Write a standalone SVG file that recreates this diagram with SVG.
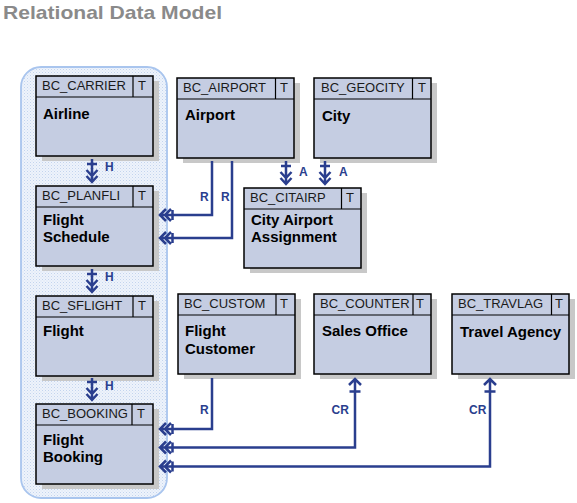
<svg xmlns="http://www.w3.org/2000/svg" width="577" height="503" viewBox="0 0 577 503">
<defs>
<pattern id="dots" width="3" height="3" patternUnits="userSpaceOnUse">
<rect width="3" height="3" fill="#eef3fb"/>
<rect x="0" y="0" width="1" height="1" fill="#c3d4ee"/>
<rect x="1.5" y="1.5" width="1" height="1" fill="#d3e0f3"/>
</pattern>
<style>
.sh{fill:#c8c8c8}
.box{fill:#c5cde2;stroke:#000;stroke-width:1.5}
.ln{stroke:#000;stroke-width:1.2}
.hd{font-family:"Liberation Sans",Arial,sans-serif;font-size:13px;fill:#1a1a1a}
.bd{font-family:"Liberation Sans",Arial,sans-serif;font-size:15px;font-weight:bold;fill:#000}
.c{fill:none;stroke:#2a3e8e;stroke-width:2.5}
.lb{font-family:"Liberation Sans",Arial,sans-serif;font-size:12px;font-weight:bold;fill:#2a3e8e}
</style>
</defs>
<rect width="577" height="503" fill="#fff"/>
<text x="3" y="18.5" font-family="Liberation Sans,Arial,sans-serif" font-size="19" font-weight="bold" fill="#8a8a8a" textLength="219" lengthAdjust="spacingAndGlyphs">Relational Data Model</text>

<g id="group">
<rect x="21" y="67" width="146" height="431" rx="20" fill="url(#dots)" stroke="#a9c5ee" stroke-width="1.8"/>
</g>

<g id="carrier">
<rect class="sh" x="42" y="81" width="117" height="80"/>
<rect class="box" x="36" y="76" width="117" height="80"/>
<line class="ln" x1="36" y1="97" x2="153" y2="97"/><line class="ln" x1="133" y1="76" x2="133" y2="97"/>
<text class="hd" x="42" y="90">BC_CARRIER</text><text class="hd" x="138" y="90">T</text>
<text class="bd" x="43" y="119">Airline</text>
</g>
<g id="planfli">
<rect class="sh" x="42" y="191" width="117" height="80"/>
<rect class="box" x="36" y="186" width="117" height="80"/>
<line class="ln" x1="36" y1="207" x2="153" y2="207"/><line class="ln" x1="133" y1="186" x2="133" y2="207"/>
<text class="hd" x="42" y="200">BC_PLANFLI</text><text class="hd" x="138" y="200">T</text>
<text class="bd" x="43" y="225">Flight</text><text class="bd" x="43" y="242">Schedule</text>
</g>
<g id="sflight">
<rect class="sh" x="42" y="301" width="117" height="80"/>
<rect class="box" x="36" y="296" width="117" height="80"/>
<line class="ln" x1="36" y1="317" x2="153" y2="317"/><line class="ln" x1="133" y1="296" x2="133" y2="317"/>
<text class="hd" x="42" y="310">BC_SFLIGHT</text><text class="hd" x="138" y="310">T</text>
<text class="bd" x="43" y="336">Flight</text>
</g>
<g id="booking">
<rect class="sh" x="42" y="409" width="117" height="80"/>
<rect class="box" x="36" y="404" width="117" height="80"/>
<line class="ln" x1="36" y1="425" x2="153" y2="425"/><line class="ln" x1="132" y1="404" x2="132" y2="425"/>
<text class="hd" x="42" y="418">BC_BOOKING</text><text class="hd" x="137" y="418">T</text>
<text class="bd" x="43" y="445">Flight</text><text class="bd" x="43" y="462">Booking</text>
</g>
<g id="airport">
<rect class="sh" x="183" y="83" width="117" height="80"/>
<rect class="box" x="177" y="78" width="117" height="80"/>
<line class="ln" x1="177" y1="99" x2="294" y2="99"/><line class="ln" x1="275.5" y1="78" x2="275.5" y2="99"/>
<text class="hd" x="183" y="92">BC_AIRPORT</text><text class="hd" x="280" y="92">T</text>
<text class="bd" x="185" y="120">Airport</text>
</g>
<g id="geocity">
<rect class="sh" x="320" y="83" width="117" height="80"/>
<rect class="box" x="314" y="78" width="117" height="80"/>
<line class="ln" x1="314" y1="99" x2="431" y2="99"/><line class="ln" x1="412.5" y1="78" x2="412.5" y2="99"/>
<text class="hd" x="321" y="92">BC_GEOCITY</text><text class="hd" x="418" y="92">T</text>
<text class="bd" x="322" y="120.5">City</text>
</g>
<g id="citairp">
<rect class="sh" x="250" y="193" width="117" height="80"/>
<rect class="box" x="244" y="188" width="117" height="80"/>
<line class="ln" x1="244" y1="209" x2="361" y2="209"/><line class="ln" x1="341.5" y1="188" x2="341.5" y2="209"/>
<text class="hd" x="250" y="202">BC_CITAIRP</text><text class="hd" x="346" y="202">T</text>
<text class="bd" x="251" y="225">City Airport</text><text class="bd" x="251" y="242">Assignment</text>
</g>
<g id="custom">
<rect class="sh" x="184" y="299" width="117" height="80"/>
<rect class="box" x="178" y="294" width="117" height="80"/>
<line class="ln" x1="178" y1="315" x2="295" y2="315"/><line class="ln" x1="276" y1="294" x2="276" y2="315"/>
<text class="hd" x="184" y="308">BC_CUSTOM</text><text class="hd" x="280" y="308">T</text>
<text class="bd" x="185" y="336">Flight</text><text class="bd" x="185" y="353.5">Customer</text>
</g>
<g id="counter">
<rect class="sh" x="320" y="299" width="117" height="80"/>
<rect class="box" x="314" y="294" width="117" height="80"/>
<line class="ln" x1="314" y1="315" x2="431" y2="315"/><line class="ln" x1="413" y1="294" x2="413" y2="315"/>
<text class="hd" x="320" y="308">BC_COUNTER</text><text class="hd" x="416" y="308">T</text>
<text class="bd" x="322" y="336">Sales Office</text>
</g>
<g id="travlag">
<rect class="sh" x="458" y="299" width="117" height="80"/>
<rect class="box" x="452" y="294" width="117" height="80"/>
<line class="ln" x1="452" y1="315" x2="569" y2="315"/><line class="ln" x1="551.5" y1="294" x2="551.5" y2="315"/>
<text class="hd" x="458" y="308">BC_TRAVLAG</text><text class="hd" x="555" y="308">T</text>
<text class="bd" x="460" y="336.5">Travel Agency</text>
</g>

<g id="connectors">
<!-- H: carrier -> planfli -->
<path class="c" d="M92 159V182M87 164H97M86.5 170L92 176L97.5 170M86.5 176L92 182L97.5 176"/>
<text class="lb" x="105" y="171">H</text>
<!-- H: planfli -> sflight -->
<path class="c" d="M92 269V292M87 274H97M86.5 280L92 286L97.5 280M86.5 286L92 292L97.5 286"/>
<text class="lb" x="105" y="281">H</text>
<!-- H: sflight -> booking -->
<path class="c" d="M92 378V400M87 382H97M86.5 388L92 394L97.5 388M86.5 394L92 400L97.5 394"/>
<text class="lb" x="105" y="389.5">H</text>
<!-- A: airport -> citairp -->
<path class="c" d="M286 161V184M281 166H291M280.5 172L286 178L291.5 172M280.5 178L286 184L291.5 178"/>
<text class="lb" x="299" y="176">A</text>
<!-- A: geocity -> citairp -->
<path class="c" d="M325 161V184M320 166H330M319.5 172L325 178L330.5 172M319.5 178L325 184L330.5 178"/>
<text class="lb" x="339" y="176">A</text>
<!-- R: airport -> planfli (1) -->
<path class="c" d="M212 161V215H160M166 209L160 215L166 221M171 209L165 215L171 221M172.5 210V220"/>
<text class="lb" x="200" y="201">R</text>
<!-- R: airport -> planfli (2) -->
<path class="c" d="M232 161V238H160M166 232L160 238L166 244M171 232L165 238L171 244M172.5 233V243"/>
<text class="lb" x="221" y="201">R</text>
<!-- R: custom -> booking -->
<path class="c" d="M212 378V429H160M166 423L160 429L166 435M171 423L165 429L171 435M172.5 424V434"/>
<text class="lb" x="200" y="414">R</text>
<!-- CR: counter -> booking -->
<path class="c" d="M355 379V447.5H160M166 441.5L160 447.5L166 453.5M171 441.5L165 447.5L171 453.5M172.5 442.5V452.5M349 385L355 379L361 385M349.5 391.5H360.5"/>
<text class="lb" x="331.5" y="414">CR</text>
<!-- CR: travlag -> booking -->
<path class="c" d="M490 379V466.5H160M166 460.5L160 466.5L166 472.5M171 460.5L165 466.5L171 472.5M172.5 461.5V471.5M484 385L490 379L496 385M484.5 391.5H495.5"/>
<text class="lb" x="469" y="414">CR</text>
</g>
</svg>
